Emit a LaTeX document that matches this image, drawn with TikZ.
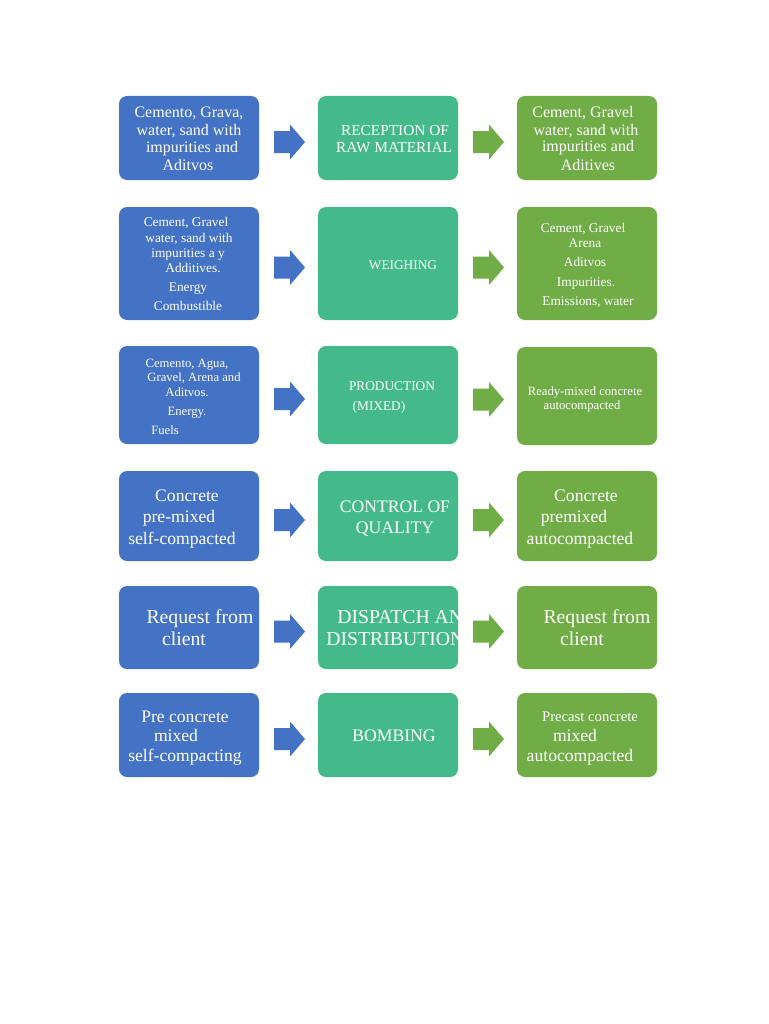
\documentclass[tikz,border=0pt]{standalone}
\usepackage{fontspec}
\setmainfont{Liberation Serif}
\usetikzlibrary{calc}
\definecolor{cblue}{HTML}{4472C4}
\definecolor{cteal}{HTML}{44BA8B}
\definecolor{cgreen}{HTML}{70AD47}
\tikzset{
  bx/.style={rounded corners=6pt, minimum width=105pt, inner sep=0pt, draw=none},
  bl/.style={bx, fill=cblue},
  bm/.style={bx, fill=cteal},
  bg/.style={bx, fill=cgreen},
  pics/blockarrow/.style={code={
    \fill (-15.5,-11) -- (0.5,-11) -- (0.5,-17.5) -- (15.5,0) -- (0.5,17.5) -- (0.5,11) -- (-15.5,11) -- cycle;}},
  tx/.style={text=white, inner sep=0pt, text height=0.66em, text depth=0pt, anchor=center},
  fa/.style={tx, font=\fontsize{12pt}{14pt}\selectfont},
  fb/.style={tx, font=\fontsize{11.5pt}{13pt}\selectfont},
  fc/.style={tx, font=\fontsize{10pt}{12pt}\selectfont},
  fd/.style={tx, font=\fontsize{9.5pt}{11pt}\selectfont},
  fe/.style={tx, font=\fontsize{13.2pt}{15pt}\selectfont},
  ff/.style={tx, font=\fontsize{14.8pt}{17pt}\selectfont},
}
\begin{document}
\begin{tikzpicture}[x=0.75pt,y=-0.75pt]
\useasboundingbox[fill=white] (0,0) rectangle (768,1024);
% boxes
\node[bl, minimum height=63pt] (L1) at (189,138) {};
\node[bm, minimum height=63pt] (M1) at (388,138) {};
\node[bg, minimum height=63pt] (R1) at (587,138) {};
\node[bl, minimum height=84.75pt] (L2) at (189,263.5) {};
\node[bm, minimum height=84.75pt] (M2) at (388,263.5) {};
\node[bg, minimum height=84.75pt] (R2) at (587,263.5) {};
\node[bl, minimum height=73.5pt] (L3) at (189,395) {};
\node[bm, minimum height=73.5pt] (M3) at (388,395) {};
\node[bg, minimum height=73.5pt] (R3) at (587,396) {};
\node[bl, minimum height=67.5pt] (L4) at (189,516) {};
\node[bm, minimum height=67.5pt] (M4) at (388,516) {};
\node[bg, minimum height=67.5pt] (R4) at (587,516) {};
\node[bl, minimum height=62.25pt] (L5) at (189,627.5) {};
\node[bm, minimum height=62.25pt] (M5) at (388,627.5) {};
\node[bg, minimum height=62.25pt] (R5) at (587,627.5) {};
\node[bl, minimum height=63pt] (L6) at (189,735) {};
\node[bm, minimum height=63pt] (M6) at (388,735) {};
\node[bg, minimum height=63pt] (R6) at (587,735) {};
% arrows
\foreach \r in {1,...,6}{
  \coordinate (AL\r) at ($(L\r.east)!0.5!(M\r.west)+(1,4)$);
  \coordinate (AR\r) at ($(M\r.east)!0.5!(R\r.west)+(1,4)$);
  \pic[fill=cblue] at (AL\r) {blockarrow};
  \pic[fill=cgreen] at (AR\r) {blockarrow};
}
% row 1
\node[fa] (t1a) at (189,113) {Cemento, Grava,};
\node[fa] (t1b) at (189,131) {water, sand with};
\node[fa] (t1c) at (192,148) {impurities and};
\node[fa] (t1d) at (188,166) {Aditvos};
\node[fb] (m1a) at (395,131) {RECEPTION OF};
\node[fb] (m1b) at (394,148) {RAW MATERIAL};
\node[fa] (r1a) at (583,113) {Cement, Gravel};
\node[fa] (r1b) at (586,131) {water, sand with};
\node[fa] (r1c) at (588,147) {impurities and};
\node[fa] (r1d) at (588,166) {Aditives};
% row 2
\node[fc] (t2a) at (186,222) {Cement, Gravel};
\node[fc] (t2b) at (189,238) {water, sand with};
\node[fc] (t2c) at (188,253) {impurities a y};
\node[fc] (t2d) at (193,268) {Additives.};
\node[fc] (t2e) at (188,287) {Energy};
\node[fc] (t2f) at (188,306) {Combustible};
\node[fc] (m2a) at (403,265) {WEIGHING};
\node[fc] (r2a) at (583,228) {Cement, Gravel};
\node[fc] (r2b) at (585,243) {Arena};
\node[fc] (r2c) at (585,262) {Aditvos};
\node[fc] (r2d) at (586,282) {Impurities.};
\node[fc] (r2e) at (588,301) {Emissions, water};
% row 3
\node[fd] (t3a) at (187,363) {Cemento, Agua,};
\node[fd] (t3b) at (194,377) {Gravel, Arena and};
\node[fd] (t3c) at (187,392) {Aditvos.};
\node[fd] (t3d) at (187,411) {Energy.};
\node[fd] (t3e) at (165,430) {Fuels};
\node[fc] (m3a) at (392,386) {PRODUCTION};
\node[fc] (m3b) at (379,406) {(MIXED)};
\node[fd] (r3a) at (585,391) {Ready-mixed concrete};
\node[fd] (r3b) at (582,405) {autocompacted};
% row 4
\node[fe] (t4a) at (187,497) {Concrete};
\node[fe] (t4b) at (179,518) {pre-mixed};
\node[fe] (t4c) at (182,540) {self-compacted};
\node[fe] (m4a) at (395,508) {CONTROL OF};
\node[fe] (m4b) at (395,529) {QUALITY};
\node[fe] (r4a) at (586,497) {Concrete};
\node[fe] (r4b) at (574,518) {premixed};
\node[fe] (r4c) at (580,540) {autocompacted};
% row 5
\node[ff] (t5a) at (200,619) {Request from};
\node[ff] (t5b) at (184,641) {client};
\begin{scope}
\clip[rounded corners=6pt] (M5.south west) rectangle (M5.north east);
\node[ff, anchor=west] (m5a) at (337,619) {DISPATCH AND};
\node[ff, anchor=west] (m5b) at (326,641) {DISTRIBUTION};
\end{scope}
\node[ff] (r5a) at (597,619) {Request from};
\node[ff] (r5b) at (582,641) {client};
% row 6
\node[fe] (t6a) at (185,718) {Pre concrete};
\node[fe] (t6b) at (176,737) {mixed};
\node[fe] (t6c) at (185,757) {self-compacting};
\node[fe] (m6a) at (394,737) {BOMBING};
\node[fc, font=\fontsize{11pt}{13pt}\selectfont] (r6a) at (590,717) {Precast concrete};
\node[fe] (r6b) at (575,737) {mixed};
\node[fe] (r6c) at (580,757) {autocompacted};
\end{tikzpicture}
\end{document}
